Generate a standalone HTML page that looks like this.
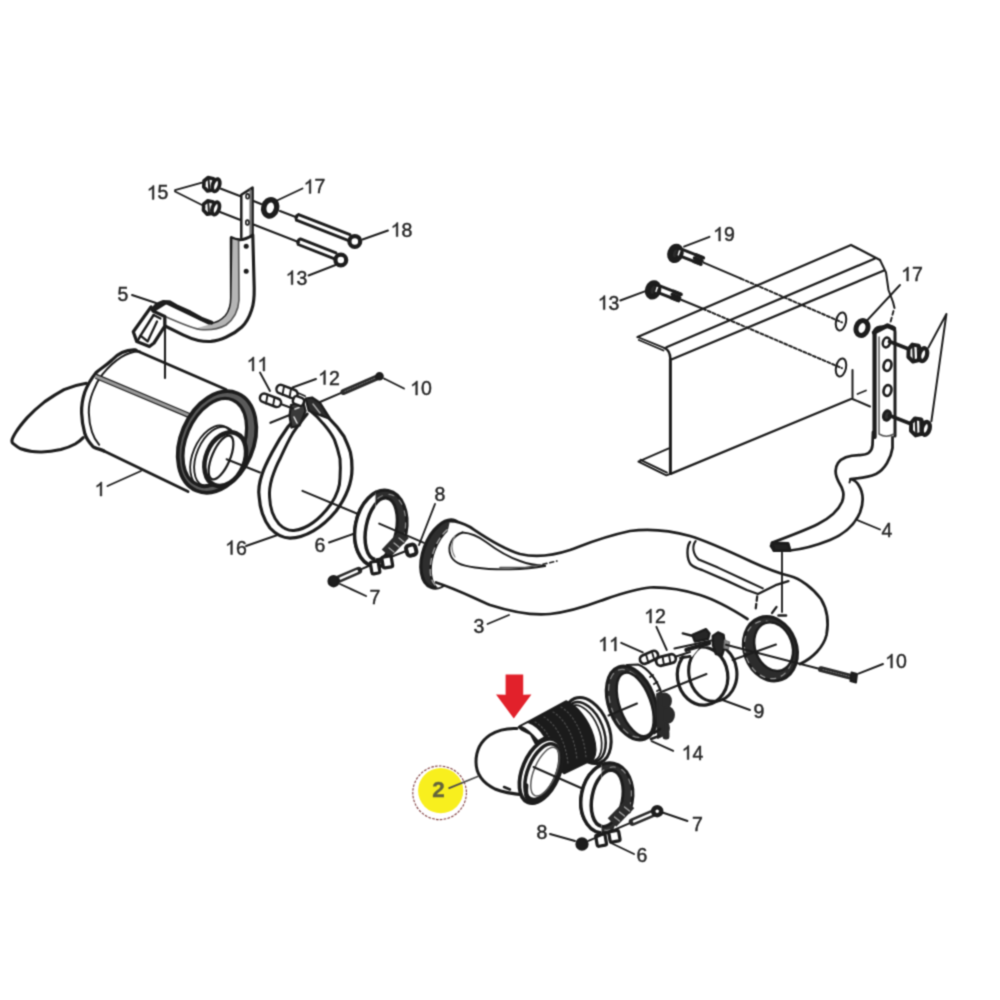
<!DOCTYPE html>
<html><head><meta charset="utf-8">
<style>
html,body{margin:0;padding:0;background:#fff;}
svg{display:block;}
text{font-family:"Liberation Sans",sans-serif;font-size:19.5px;fill:#262626;stroke:#262626;stroke-width:0.45px;text-anchor:middle;}
</style></head><body>
<svg width="1000" height="1000" viewBox="0 0 1000 1000">
<defs>
<filter id="soft" x="-2%" y="-2%" width="104%" height="104%" color-interpolation-filters="sRGB"><feConvolveMatrix order="3" kernelMatrix="0.0400 0.1200 0.0400 0.1200 0.3600 0.1200 0.0400 0.1200 0.0400" edgeMode="none" preserveAlpha="false"/></filter>
</defs>
<rect width="1000" height="1000" fill="#fff"/>
<g filter="url(#soft)">
<g id="art" fill="none" stroke="#1c1c1c" stroke-width="2.3" stroke-linecap="round" stroke-linejoin="round">
<!-- nuts 15 -->
<g id="nut15a">
<path d="M204,181 L208,177.6 L213.5,178.8 L215,184.5 L213,190 L207.5,191 L203.8,187 Z" stroke-width="3.62" fill="#fff"/>
<ellipse cx="216" cy="185.2" rx="3.4" ry="6.4" transform="rotate(18 216 185.2)" stroke-width="3.75" fill="#fff"/>
<path d="M208.5,178 L209.3,190.5" stroke-width="2.00"/>
</g>
<use href="#nut15a" x="-0.3" y="23.2"/>
<!-- assembly lines -->
<path d="M221,188.8 L240.5,196.3 M253.5,201 L261,204 M280,211 L297,217.4" stroke-width="2.12"/>
<path d="M220,212 L240.5,219.9 M253.5,224.6 L299,242.2" stroke-width="2.12"/>
<!-- washer 17 -->
<ellipse cx="270.2" cy="207.8" rx="6.4" ry="8.2" transform="rotate(15 270.2 207.8)" stroke-width="5.50" fill="#fff"/>
<!-- bolt 18 -->
<path d="M298.6,214.6 L350,234.6 M296.4,220.2 L348,240.4 M298.6,214.6 Q294.6,216.4 296.4,220.2" stroke-width="2.88"/>
<circle cx="354.8" cy="241.4" r="5.4" stroke-width="4.25" fill="#fff"/>
<!-- bolt 13 -->
<path d="M300.4,238.9 L336,252.9 M298.2,244.5 L334,258.7 M300.4,238.9 Q296.4,240.7 298.2,244.5" stroke-width="2.88"/>
<circle cx="340.8" cy="260" r="5.4" stroke-width="4.25" fill="#fff"/>
<!-- bracket upper strap -->
<path d="M241.3,237.5 L241.3,194.8 L252.6,187.6 L252.6,236" stroke-width="2.50" fill="#fff"/>
<path d="M250.2,189.5 L250.2,236" stroke-width="1.38" stroke="#666"/>
<ellipse cx="247.6" cy="196.3" rx="1.6" ry="2.4" stroke-width="1.62"/>
<ellipse cx="247.4" cy="222.5" rx="1.6" ry="2.4" stroke-width="1.62"/>
<!-- bracket lower channel: outer shape -->
<path d="M231.3,237.5 Q241,243 252.8,235 L254.2,288 C254.4,300 253.5,305 251.6,310 C249,318 246,323 241.8,327 C237,331.5 232,334.5 226.4,337 C221,339.5 216,341 211,341.4 C207,341.6 202,341.2 198.4,340.4 C193,339.2 188,337.2 183,334.8 L160,323.5 L153,311 L166,302.6 L211,324 Q219,323.5 226,316 Q231.5,309 231.5,298 Z" stroke-width="3.12" fill="#fff"/>
<path d="M232.5,239 L238.6,241 L239,300 Q238,316 226,325 Q215,331 200,329.5 L196,328.5 L211,324 Q219,323.5 226,316 Q231.5,309 231.5,298 Z" fill="#b5b5b5" stroke="none"/>
<path d="M238.6,241 L239,300 Q238,316 226,325 Q215,331 200,329.5 Q190,328 153,311" stroke-width="1.62" stroke="#555"/>
<circle cx="246.2" cy="246.3" r="1.9" fill="#1e1e1e" stroke-width="1.25"/>
<circle cx="246.2" cy="271.3" r="1.9" fill="#1e1e1e" stroke-width="1.25"/>
<!-- arm top dark edge -->
<path d="M153,309 L157,304.6 L163,302 L169.5,302.2 L176,306 L190,312.4 L201,318.6 L211.5,322.6" stroke-width="4.00"/>
<!-- foot -->
<path d="M151,307 L133.3,331.8 L136.8,341.6 L149.4,346.5 L154,343 L164.8,326.2 L164.8,316.4 L153,311 Z" stroke-width="3.25" fill="#fff"/>
<path d="M153.6,315 L140.5,335.6 L137.5,341" stroke-width="2.50"/>
<path d="M157,321.5 L147.6,341.4 L140.5,335.6" stroke-width="2.25"/>
<path d="M153.6,315 L160.5,318.6" stroke-width="2.25"/>
<!-- vertical assembly line -->
<path d="M165,319 L165,378" stroke-width="2.00"/>

<!-- tail pipe tip -->
<path d="M86.4,383.2 C78,384.5 70,387 64,389.6 C56,394 50,398 44.8,401.6 C38,407 32,412.5 27.2,417.6 C22,423.5 18.5,428 16,432 C13.5,436 12.3,438.5 12,440 C11.8,442 12,443 13.2,443.6 C15.5,445.5 18,447.5 20.8,448.8 C27,451 33.5,452 40,452 C47,452.2 54,451.2 60.8,449.6 C66,448.2 71,446.3 75.2,444 C78.5,442 81,440 83.2,437.6" stroke-width="3.12" fill="#fff"/>
<!-- body -->
<path d="M135,350 L225,389 L256,425 L207,495 L190,492.5 L97.5,447.5 C80,432 76,398 100,367 C110,355 122,349 135,350 Z" stroke="none" fill="#fff"/>
<path d="M135,350 L226,389.5" stroke-width="2.88"/>
<path d="M104,451 L188,491.5" stroke-width="2.88"/>
<!-- left end arcs -->
<path d="M136,350 C126,349 117,354.5 112,360 C105,366.5 100,369 96,372.8 C91,379 87.5,385 84.8,392 C82.5,399 81.4,406 81.6,412.8 C81.8,420 83,427 84.8,433.6 C86.5,439 89.5,443 92.8,446.4 C95,448.2 100.4,449.3 104,451" stroke-width="3.25"/>
<path d="M140,351.5 C128,351 116,358 102.4,374.4 C98,380 95,386 92.8,392 C90,399 88.6,406 88.8,412.8 C89,420 90,426 92,432 C93.5,437 96,441 99.2,444.8" stroke-width="2.00"/>
<!-- seam -->
<path d="M97,375 L189,413.6 M96,378.2 L188,416.8" stroke-width="2.00"/><path d="M96.5,376.6 L188.5,415.2" stroke-width="3.00" stroke="#9a9a9a"/>
<!-- front face -->
<g transform="rotate(23 217 442)">
<ellipse cx="217" cy="442" rx="36.3" ry="52.8" stroke-width="3.75" fill="#5a5a5a"/>
<ellipse cx="215" cy="443" rx="28.6" ry="45.8" stroke-width="3.25" fill="#fff"/>
</g>
<!-- outlet collar -->
<g transform="rotate(23 220 456)">
<ellipse cx="212.6" cy="459.5" rx="19" ry="32.5" stroke-width="1.88"/>
<ellipse cx="215.8" cy="458.5" rx="18.5" ry="31.5" stroke-width="1.88"/>
<ellipse cx="226" cy="456.8" rx="19.3" ry="28" stroke-width="4.50" fill="#fff"/>
<ellipse cx="221.5" cy="457" rx="9" ry="23.5" stroke-width="2.25"/>
</g>
<!-- axis -->
<path d="M226.6,459.2 L260,472.5" stroke-width="2.00"/>

<!-- strap 16 -->
<path d="M304,410.8 C298,416 292,422 288,426.8 C282,435 276,445 272,452.4 C268,460 264,468 262.4,473.2 C259,483 258,490 259.2,497 C260,510 264,520 270,528 C276,534.5 283,538 290,538 C305,538 322,528 336,511 C347,496 352,482 352,468.4 C352,462 351.5,457 350.4,452.4 C348.5,446 346,441 344,436.4 C340,430 335,424 329.6,418.8 C326,413 323,408.5 320,404.4" stroke-width="3.25"/>
<path d="M307.2,414 C302,420 297,427 292.8,433.2 C288,441 284,450 280,458.8 C276,466 274,472 272,478 C270,485 269,491 269.6,497.2 C270,508 273,517 279,524 C284,529 289,531 294,530.5 C307,529 320,519 331,504 C337,495 340,487 340,478 C340.5,471 340.5,465 340,458.8 C338.5,452 336.5,445 334.4,439.6 C331,433 327,428 323.2,423.6 C319,418.5 315,414.5 310.4,410.8" stroke-width="3.00"/>
<!-- apex dark triangle -->
<path d="M305.6,398.5 L312,397.5 L320,402.8 L329.6,418.8 L316.8,414 L308.8,410.8 Z" fill="#2c2c2c" stroke-width="2.25"/>
<path d="M313,404 L320,413" stroke="#aaa" stroke-width="1.50"/>
<!-- hardware left of apex -->
<path d="M291,405 L303,401 L305.5,411 L299.5,425.5 L291.5,427.5 L289.5,416 Z" fill="#3a3a3a" stroke-width="2.25"/>
<path d="M295,409 L299,407.5 M294,417 L297,423" stroke="#ddd" stroke-width="1.62"/>
<path d="M270.4,422.8 L289,415.2" stroke-width="2.12"/>
<!-- links 11 12 -->
<g stroke-width="2.50" fill="#fff">
<rect x="259.5" y="396" width="22" height="8.6" rx="4.2" transform="rotate(21 270.5 400.3)"/>
<rect x="276" y="387.3" width="22" height="8.6" rx="4.2" transform="rotate(21 287 391.6)"/>
<rect x="293" y="397" width="11" height="8" rx="3" transform="rotate(21 298.5 401)"/>
</g>
<path d="M267.5,395 L266,403.5 M274.5,397.5 L273,406 M284,386.3 L282.5,394.8 M291,389 L289.5,397.5" stroke-width="1.88"/>
<path d="M282,404.5 L293,408.5 M297,392.5 L305,396" stroke-width="1.88"/>
<!-- line apex to bolt 10 -->
<path d="M320,402 L342.4,392.4" stroke-width="2.00"/>
<!-- bolt 10 -->
<path d="M343.5,392 L377,377.4" stroke-width="6.00" stroke="#2a2a2a"/>
<path d="M345,391.3 L375,378.2" stroke-width="1.00" stroke="#777" stroke-dasharray="1 1.6"/>
<circle cx="379.5" cy="376.3" r="3.2" fill="#1e1e1e" stroke-width="2.25"/>
<!-- axis -->
<path d="M302.4,490.8 L358,514" stroke-width="2.00"/>

<!-- clamp 6 upper -->
<defs>
<clipPath id="c6left"><rect x="340" y="480" width="35.5" height="100"/></clipPath>
<clipPath id="c6keep"><path d="M340,480 H420 V538 L392,548 L381,575 H340 Z"/></clipPath>
</defs>
<g id="clamp6ring">
<g clip-path="url(#c6keep)">
<g transform="rotate(11 380.8 528.4)">
<ellipse cx="380.8" cy="528.4" rx="25.6" ry="38.6" stroke-width="3.25" fill="#2e2e2e"/>
<ellipse cx="384" cy="528.4" rx="21" ry="35" stroke-width="1.25" stroke="#8a8a8a" stroke-dasharray="5 7"/>
<ellipse cx="381.2" cy="528.8" rx="15.2" ry="31.2" stroke-width="3.00" fill="#fff"/>
</g>
<g clip-path="url(#c6left)">
<g transform="rotate(11 380.8 528.4)">
<ellipse cx="380.8" cy="528.4" rx="25.6" ry="38.6" stroke-width="3.50" fill="#fff"/>
<ellipse cx="381.2" cy="528.8" rx="15.2" ry="31.2" stroke-width="3.50" fill="#fff"/>
</g>
</g>
</g>
</g>
<!-- lower right dark band going to blocks -->
<path d="M404.5,534 L386,553.5" stroke-width="11.88" stroke="#2c2c2c" stroke-linecap="butt"/>
<path d="M399,538 l5,4 M394,543 l5,4 M389,548 l5,4" stroke="#aaa" stroke-width="1.25"/>
<!-- blocks -->
<rect x="371" y="561.5" width="8" height="12" rx="1.6" stroke-width="3.25" fill="#fff" transform="rotate(-10 375 567)"/>
<rect x="382.5" y="556.5" width="9.5" height="11" rx="1.6" stroke-width="3.25" fill="#fff" transform="rotate(-10 387 562)"/>
<path d="M392,556.5 L406,551" stroke-width="2.00"/>
<!-- nut 8 -->
<rect x="406.5" y="545" width="9.4" height="10.4" rx="3" stroke-width="4.00" fill="#fff" transform="rotate(-15 411 550)"/>
<!-- bolt 7 -->
<path d="M339,579 L358.4,570.6" stroke-width="7.50" stroke="#2a2a2a"/>
<path d="M340.5,578.4 L357,571.2" stroke-width="2.50" stroke="#fff"/>
<path d="M359,570.2 L371,565" stroke-width="2.00"/>
<circle cx="333.6" cy="581.2" r="4.8" fill="#1e1e1e" stroke-width="2.75"/>
<!-- axis -->
<path d="M379.2,523.6 L424,542.8" stroke-width="2.00"/>

<!-- flange left (drawn before body) -->
<defs><clipPath id="flc"><ellipse cx="443.2" cy="554" rx="20" ry="35.4"/></clipPath></defs>
<g transform="rotate(20 443.2 554)">
<ellipse cx="443.2" cy="554" rx="20" ry="35.4" stroke-width="3.25" fill="#2e2e2e"/>
<g clip-path="url(#flc)"><ellipse cx="453.6" cy="554" rx="20" ry="35.4" stroke-width="2.50" fill="#fff"/></g>
<path d="M446,522 A17,33 0 0 0 446,586" stroke-width="1.38" stroke="#a5a5a5" stroke-dasharray="6 5"/>
</g>
<!-- pipe 3 body fill -->
<path d="M450,521 C457,521 464,523.5 470,527 C482,535 500,548 520,554 C535,557.5 552,556 570,550 C585,544.5 600,537.5 630,531 C650,528.5 672,531 690,536 C705,540.5 735,554 750,561 C762,566.5 775,572.5 790,576 C800,578.5 813,588 821,599 C827,609 829,622 826.5,635 C823.5,647 813,658 800,664 L770,680 L745,645 L747.5,619 C735,611 716,600 700,595 C684,590 668,587 650,587.5 C632,589 612,597 600,601 C588,605.5 572,611.5 550,614 C535,615.5 515,613 490,605 C478,600.5 462,591 436,582.5 Z" fill="#fff" stroke="none"/>
<!-- top edge -->
<path d="M450,521 C457,521 464,523.5 470,527 C482,535 500,548 520,554 C535,557.5 552,556 570,550 C585,544.5 600,537.5 630,531 C650,528.5 672,531 690,536 C705,540.5 735,554 750,561 C762,566.5 775,572.5 790,576 C800,578.5 813,588 821,599 C827,609 829,622 826.5,635 C823.5,647 813,658 800,664" stroke-width="2.75"/>
<!-- bottom edge -->
<path d="M436,582.5 C462,591 478,600.5 490,605 C515,613 535,615.5 550,614 C572,611.5 588,605.5 600,601 C612,597 632,589 650,587.5 C668,587 684,590 700,595 C716,600 735,611 747.5,619" stroke-width="2.75"/>
<!-- (flange moved to start) -->
<!-- inner crescent highlight -->
<path d="M462.5,532.5 C452,536 447,546 450.5,555 C453,562 460,565.5 475,567.5 C495,570.5 525,570 545,566" stroke-width="1.88"/>
<path d="M462.5,532.5 C470,533 478,536 486,542 C496,549.5 508,557 520,561 C528,564 536,565.5 545,566" stroke-width="1.88"/>
<path d="M455,536 C451,542 451,551 455,557" stroke-width="1.25" stroke="#888"/>
<!-- highlight streak -->
<path d="M500,567.5 L525,567.5 L540,565" stroke-width="1.62" stroke="#555"/>
<path d="M543,564.3 L557,561" stroke-width="1.62" stroke-dasharray="4 3"/>
<!-- heat shield indentation -->
<path d="M690,542 C686.5,547 686.5,559 690.8,564.4 C694,567.5 698,568.8 702,570 L726,580.4 L746.8,590 L758,594 L766,590 L775.6,585.2 L788.4,581.2" stroke-width="2.38"/>
<path d="M695.6,541.2 C692,546 692.5,554 698.8,559.6 L718,567.6 L742,578.8 L762.8,588.4" stroke-width="2.12"/>
<path d="M757.2,596.4 L755.6,609.5" stroke-width="2.25" stroke-dasharray="4.5 3"/>
<!-- end ring -->
<g transform="rotate(-20 770.4 648.8)">
<ellipse cx="770.4" cy="648.8" rx="26.2" ry="32.8" stroke-width="3.00" fill="#2c2c2c"/>
<ellipse cx="768" cy="649" rx="23" ry="29.5" stroke-width="1.25" stroke="#999" stroke-dasharray="5 6" fill="none"/>
</g>
<g transform="rotate(-20 773.6 646.6)">
<ellipse cx="773.6" cy="646.6" rx="18.6" ry="25" stroke-width="2.50" fill="#fff"/>
</g>
<path d="M772,613 l4.5,-6" stroke-width="2.25"/>

<!-- frame rail -->
<path d="M637.6,337 L851,245 L880,260" stroke-width="2.25"/>
<path d="M637.6,337 L664.8,348.2 M638.8,340 L663.5,350.5" stroke-width="1.88"/>
<path d="M666.4,347.2 L875,258.5" stroke-width="2.25"/>
<path d="M672,359.2 L884,270.5" stroke-width="2.25"/>
<path d="M664.8,348.2 Q670,350.5 670.4,359" stroke-width="2.50"/>
<path d="M670.4,359 L670.4,473.6" stroke-width="3.00"/>
<path d="M671.2,473.6 L851,399" stroke-width="2.25"/>
<path d="M638.4,461.6 L668.8,448.4 M638.4,461.6 L666.4,475.4 L671.2,473.6 M640.5,459.8 L667,472.6" stroke-width="1.88"/>
<!-- right jagged end -->
<path d="M880,260 L886,272.5 L888.5,290 L893,302 L894.5,308" stroke-width="2.00"/>
<path d="M893.5,311 L890,324" stroke-width="1.88" stroke-dasharray="4 3"/>
<!-- notch bottom right -->
<path d="M852.5,370 L852.5,399 L870,406.5" stroke-width="2.00"/>
<path d="M857.5,394 L866,390.5" stroke-width="1.75"/>
<!-- holes -->
<ellipse cx="841" cy="321.5" rx="5" ry="9.2" transform="rotate(12 841 321.5)" stroke-width="2.00"/>
<ellipse cx="841" cy="367.5" rx="5" ry="9.2" transform="rotate(12 841 367.5)" stroke-width="2.00"/>
<!-- bolts 19 / 13 -->
<g id="b19">
<path d="M679.6,248.4 L703,257.6 M677.2,254.8 L700.6,264" stroke-width="3.00"/>
<path d="M696,254.9 L703.4,257.8 M693.8,261.3 L701,264.2 M694.5,258 L702,261" stroke-width="3.50"/>
<ellipse cx="675.4" cy="253.4" rx="5.2" ry="7" transform="rotate(20 675.4 253.4)" stroke-width="5.75" fill="#2a2a2a"/>
<path d="M678.5,249 L681.5,250.2 L679.2,256.6 L676.6,255.6 Z" stroke-width="1.50" fill="#fff"/>
</g>
<use href="#b19" x="-22.3" y="36.5"/>
<path d="M703.6,262.6 L741,278.6" stroke-width="2.12"/>
<path d="M741,278.6 L842,322.4" stroke-width="2.00" stroke-dasharray="3 2.2"/>
<path d="M680.5,299.4 L703,308.8" stroke-width="2.12"/>
<path d="M703,308.8 L842,368.2" stroke-width="2.00" stroke-dasharray="3 2.2"/>
<!-- washer 17 right -->
<ellipse cx="862" cy="328" rx="5.8" ry="7.6" transform="rotate(18 862 328)" stroke-width="5.00" fill="#fff"/>

<!-- hanger tube -->
<path d="M873,432 L872.5,445 C872,452 868,455 860,455 C850,455 842,457 838,463 C834,469 835.5,476 839,482.5 C843,489 845,494 842,502 C838,511 830,518 818,524 C806,530 790,536 772.5,542.5 L771,546 L774,550.5 L790,550.5 C800,549.5 815,546 830,540 C845,534 855,524 860,512.5 C864,502 863,492 858.5,485 C856,481 853,479.5 850.5,479 C858,478.5 868,477.5 876,474 C885,469.5 891,458 892.5,448 L892.5,432 Z" stroke-width="2.75" fill="#fff"/>
<path d="M850.5,479 L849.5,482.5" stroke-width="2.00"/>
<!-- lower end dark -->
<path d="M772,543 L788,543.5 L790,550.5 L774,550.5 Z" fill="#222" stroke-width="3.00"/>
<!-- plate -->
<path d="M874,437.5 L874,333 Q874.5,327.5 880,327 L891,326.5 Q895,327 895,332 L895,436" stroke-width="3.00" fill="#fff"/>
<path d="M874.8,331 L874.8,437" stroke-width="3.75"/>
<path d="M879,337 L879,434 Q886,438.5 894,434" stroke-width="1.50" stroke="#555"/>
<path d="M874,332.5 L887.5,325.6 L894,328.6" stroke-width="4.50"/>
<!-- holes -->
<ellipse cx="886.5" cy="342.5" rx="3.6" ry="5" transform="rotate(15 886.5 342.5)" stroke-width="2.50"/>
<ellipse cx="887.5" cy="365.5" rx="3.8" ry="5.4" transform="rotate(15 887.5 365.5)" stroke-width="2.75"/>
<ellipse cx="887.5" cy="390.5" rx="3.8" ry="5.4" transform="rotate(15 887.5 390.5)" stroke-width="2.75"/>
<ellipse cx="887" cy="415.5" rx="3.4" ry="4.8" transform="rotate(15 887 415.5)" stroke-width="3.00" fill="#333"/>
<!-- studs -->
<path d="M889.5,341.6 L908,348.8" stroke-width="3.75"/>
<path d="M889.5,415.4 L910,423.4" stroke-width="3.75"/>
<!-- nuts -->
<g id="nutR">
<path d="M908.6,349 L912.4,344.6 L918.6,345.6 L921,352 L919,360 L913,361.6 L908.4,357 Z" stroke-width="4.00" fill="#fff"/>
<ellipse cx="923.2" cy="354.6" rx="3.8" ry="6.6" transform="rotate(15 923.2 354.6)" stroke-width="4.25" fill="#fff"/>
<path d="M913.2,345.4 L913.8,361" stroke-width="2.25"/>
<path d="M917.5,347 L918,359.5" stroke-width="1.75"/>
</g>
<use href="#nutR" x="2.6" y="73.8"/>
<!-- pointer -->
<path d="M928.4,347.6 L946.4,314 L931.4,421.2" stroke-width="2.00"/>
<!-- vertical line -->
<path d="M782,552.5 L782,612" stroke-width="1.88"/>
<path d="M778.5,615.5 L786,615.5" stroke-width="2.50"/>

<!-- clamp 9: back ellipse then front -->
<defs><clipPath id="c9clip"><path d="M660,651 L692,657 L700,647 L740,643 L745,720 L660,720 Z"/></clipPath></defs>
<g clip-path="url(#c9clip)">
<g transform="rotate(-8 712.8 672.5)">
<ellipse cx="712.8" cy="672.5" rx="24" ry="29" stroke-width="3.12"/>
</g>
<g transform="rotate(-8 702.6 676)">
<ellipse cx="702.6" cy="676" rx="25.2" ry="29.2" stroke-width="3.25"/>
</g>
</g>
<path d="M680.5,658 L690,656.4" stroke-width="2.75"/>
<!-- top hardware -->
<path d="M682.8,633.4 L693,636" stroke-width="2.50"/>
<path d="M692.5,635 L706,629.2 L709.5,633.5 L708,639 L695,641.5 Z" fill="#262626" stroke-width="2.50"/>
<path d="M712.8,636 L718,632.5 L723.5,635 L725,646 L722,655 L716,654 L713,645 Z" fill="#262626" stroke-width="2.50"/>
<path d="M724.5,640 L729.5,642 L728.5,649 L724,648 Z" fill="#8a8a8a" stroke="#777" stroke-width="1.25"/>
<path d="M686.4,649.8 L709,643.2" stroke-width="4.25"/>
<path d="M674.4,648.6 L712.8,640.2" stroke-width="2.00"/>
<path d="M676,656.5 L690,652" stroke-width="1.88"/>
<!-- links 11/12 right -->
<g stroke-width="2.75" fill="#fff">
<rect x="639.5" y="653" width="19" height="8.6" rx="4.2" transform="rotate(-24 649 657.3)"/>
<rect x="656" y="655.6" width="20" height="8.8" rx="4.3" transform="rotate(-14 666 660)"/>
</g>
<path d="M646,654.5 L648.5,663 M652,652 L654.5,660.5 M662.5,656.5 L664,665 M669,655 L670.5,663.5" stroke-width="1.88"/>
<!-- long line through ring to bolt 10 -->
<path d="M726,644.8 L820,669" stroke-width="2.00"/>
<path d="M821,669.2 L851,676.8" stroke-width="6.00" stroke="#2a2a2a"/>
<path d="M823,669.7 L849,676.3" stroke-width="1.00" stroke="#777" stroke-dasharray="1 1.6"/>
<path d="M851.5,672.5 L857,674 L856,682.5 L850.5,681 Z" fill="#1e1e1e" stroke-width="2.00"/>
<!-- axis lines -->
<path d="M662.5,691.5 L706.5,674" stroke-width="2.00"/>
<path d="M732.5,660 L776,644.5" stroke-width="2.00"/>

<!-- clamp 14 -->
<!-- band depth right side -->
<path d="M627,665 L638,664.5 C648,668 657,680 661,692 C664,702 664,716 661,726" stroke-width="2.25" fill="#fff"/>
<g transform="rotate(-20 631.75 703)">
<ellipse cx="631.75" cy="703" rx="23.2" ry="38.4" stroke-width="3.00" fill="#2b2b2b"/>
<ellipse cx="630.5" cy="703" rx="19.5" ry="35.5" stroke-width="1.25" stroke="#8c8c8c" stroke-dasharray="6 6" fill="none"/>
</g>
<g transform="rotate(-20 635.2 704.4)">
<ellipse cx="635.2" cy="704.4" rx="15.6" ry="33.4" stroke-width="2.50" fill="#fff"/>
</g>
<!-- right band ticks -->
<path d="M650,677 l3,-2 M654,684 l3.4,-2 M657,691 l3.4,-1.6" stroke-width="1.88"/>
<!-- clamp mechanism blobs -->
<g fill="#2b2b2b" stroke="#2b2b2b" stroke-width="1.88">
<ellipse cx="664.5" cy="701" rx="6.5" ry="7.5"/>
<ellipse cx="667.5" cy="715" rx="6.5" ry="8"/>
<ellipse cx="664" cy="728" rx="5" ry="6.5"/>
<path d="M657,694 L661,692 L664,735 L658,738 Z"/>
<rect x="663.5" y="731" width="5" height="7.5" rx="1.5"/>
</g>
<path d="M654,733 l6,-4 M651,739 l8,-3" stroke-width="2.75"/>
<!-- axis -->
<path d="M608.5,715.5 L637,703.5" stroke-width="2.00"/>

<!-- flange far end -->
<g transform="rotate(-22 587.4 730.5)">
<ellipse cx="587.4" cy="730.5" rx="21.5" ry="34.5" stroke-width="3.00" fill="#fff"/>
<ellipse cx="584.5" cy="731" rx="18.5" ry="31.5" stroke-width="2.50"/>
<ellipse cx="582.5" cy="731.5" rx="16" ry="29.5" stroke-width="1.75"/>
</g>
<!-- flex body black -->
<path d="M519,727 L566,701.5 C577,706 588,720 593,736 C596,746 596,754 593,759 L564,773 Z" fill="#1b1b1b" stroke="#1b1b1b" stroke-width="2.50"/>
<!-- texture -->
<g stroke="#555" stroke-width="1.12" stroke-dasharray="1.5 2.5" fill="none">
<path d="M535,722 C546,728 556,745 558,766"/>
<path d="M544,717 C556,724 566,742 568,764"/>
<path d="M553,712 C565,719 575,737 577,760"/>
<path d="M561,707 C573,714 584,733 586,757"/>
</g>
<!-- elbow -->
<path d="M517,728.5 C508,728 498,730 490,735 C481,741 476,751 476,762 C476,774 483,783 495,789 C505,793 514,794 524,795 L548,770 L530,735 Z" fill="#fff" stroke="none"/>
<path d="M517,728.5 C508,728 498,730 490,735 C481,741 476,751 476,762 C476,774 483,783 495,789 C505,793 514,794 524,795" stroke-width="3.00"/>
<path d="M504,787 L510,789.5" stroke-width="2.50"/>
<!-- white collar strip top -->
<path d="M520,726 L528,722 C534,724 541,730 545,737 L538,741 C533,735 527,729 520,726 Z" fill="#fff" stroke-width="1.88"/>
<!-- front ring -->
<g transform="rotate(23 541 771)">
<ellipse cx="541" cy="771" rx="18.5" ry="34" stroke-width="3.75" fill="#fff"/>
<ellipse cx="542.5" cy="771" rx="14.3" ry="29.6" stroke-width="3.50"/>
<path d="M552,796 A12.5,27.5 0 0 1 533,790" stroke-width="4.50"/>
<ellipse cx="545" cy="770" rx="11" ry="26" stroke-width="1.50" stroke="#555"/>
</g>
<!-- axis -->
<path d="M533.5,767 L610.5,801" stroke-width="2.00"/>

<!-- clamp 6 lower -->
<defs>
<clipPath id="c6bleft"><rect x="565" y="750" width="36.5" height="100"/></clipPath>
<clipPath id="c6bkeep"><path d="M565,750 H646 V807 L618,818 L607,845 H565 Z"/></clipPath>
</defs>
<g clip-path="url(#c6bkeep)">
<g transform="rotate(11 606.8 798)">
<ellipse cx="606.8" cy="798" rx="25.6" ry="35.4" stroke-width="3.25" fill="#2e2e2e"/>
<ellipse cx="610" cy="798" rx="21" ry="32" stroke-width="1.25" stroke="#8a8a8a" stroke-dasharray="5 7"/>
<ellipse cx="607.2" cy="798.4" rx="15.2" ry="28.4" stroke-width="3.00" fill="#fff"/>
</g>
<g clip-path="url(#c6bleft)">
<g transform="rotate(11 606.8 798)">
<ellipse cx="606.8" cy="798" rx="25.6" ry="35.4" stroke-width="3.50" fill="#fff"/>
<ellipse cx="607.2" cy="798.4" rx="15.2" ry="28.4" stroke-width="3.50" fill="#fff"/>
</g>
</g>
</g>
<path d="M630,804 L612,822.5" stroke-width="11.88" stroke="#2c2c2c" stroke-linecap="butt"/>
<path d="M624.5,807 l5,4 M619.5,812 l5,4 M614.5,817 l5,4" stroke="#aaa" stroke-width="1.25"/>
<!-- blocks -->
<rect x="596.4" y="834.4" width="9.4" height="11.4" rx="1.6" stroke-width="3.25" fill="#fff" transform="rotate(-10 601 840)"/>
<rect x="609.4" y="831" width="10" height="10.6" rx="1.6" stroke-width="3.25" fill="#fff" transform="rotate(-10 614.5 836.3)"/>
<!-- line nut -> bolt -->
<path d="M588.4,840.8 L631.6,822.4" stroke-width="2.00"/>
<!-- nut 8 lower -->
<circle cx="582" cy="844" r="5.4" fill="#1c1c1c" stroke-width="2.50"/>
<!-- bolt 7 right -->
<path d="M632.5,822 L653,813.2" stroke-width="7.50" stroke="#2a2a2a"/>
<path d="M634,821.4 L651.5,813.8" stroke-width="2.50" stroke="#fff"/>
<circle cx="657.2" cy="811.2" r="4" stroke-width="4.50" fill="#fff"/>

<g stroke-width="1.88">
<!-- vertical assembly line bracket->muffler -->
<path d="M165,319 L165,378" stroke-width="2.12"/>
<!-- 15 -->
<path d="M175,190.2 L202,182.6 M175,191.5 L202,205"/>
<!-- 17 left -->
<path d="M302.5,188.5 L277,200.5"/>
<!-- 18 -->
<path d="M388,230.5 L362.5,239.5"/>
<!-- 13 left -->
<path d="M308.5,275.5 L335.5,265"/>
<!-- 5 -->
<path d="M132,295 L156,303"/>
<!-- 11 left -->
<path d="M260,372.5 L270,391"/>
<!-- 12 left -->
<path d="M316,379 L292.5,387.5"/>
<!-- 10 left -->
<path d="M384,378.5 L404,388.5"/>
<!-- 1 -->
<path d="M107.5,486 L141,471"/>
<!-- 16 -->
<path d="M246,546 L277.5,535"/>
<!-- 6 left -->
<path d="M329,542.5 L353,534"/>
<!-- 8 upper -->
<path d="M435,504 L419,545"/>
<!-- 7 left -->
<path d="M340,584 L366,596"/>
<!-- 3 -->
<path d="M487.5,624 L509,615"/>
<!-- 19 -->
<path d="M684,246.6 L709.5,236.8"/>
<!-- 13 right -->
<path d="M620.3,300.5 L644.8,291.4"/>
<!-- 17 right -->
<path d="M900,285 L867.5,320"/>
<!-- 4 -->
<path d="M856,519.5 L880,529.5"/>
<!-- 12 right -->
<path d="M656.4,626.8 L666.8,650"/>
<!-- 11 right -->
<path d="M621.2,642.8 L642.8,652.4"/>
<!-- 10 right -->
<path d="M858.5,673.6 L883,664"/>
<!-- 9 -->
<path d="M722.5,700 L750,710"/>
<!-- 14 -->
<path d="M651.6,741.2 L673.2,750.8"/>
<!-- 7 right -->
<path d="M662.5,812.5 L687.5,821"/>
<!-- 6 right -->
<path d="M610,842.5 L634,854"/>
<!-- 8 lower -->
<path d="M550,834 L575,841"/>
</g>

</g>
<path d="M505.6,674.4 L523.2,674.4 L523.2,694.8 L531.4,694.4 L513.8,718.6 L496,694.4 L505.6,694.8 Z" fill="#e2212b"/>
<circle cx="440.7" cy="790.7" r="22.6" fill="#f8ef1e"/>
<circle cx="439.6" cy="792.8" r="26.8" fill="none" stroke="#7d3a3a" stroke-width="1.1" stroke-dasharray="2.6 1.3"/>
<path d="M448.5,788.4 L479,776" stroke="#4a4a4a" stroke-width="1.7" fill="none"/>

<g>
<path d="M763,0 H583 V1147 Q518,1085 412.5,1023 Q307,961 223,930 V1104 Q374,1175 487,1276 Q600,1377 647,1472 H763 Z" transform="translate(146.76,199.40) scale(0.009521,-0.009521)" fill="#262626" stroke="#262626" stroke-width="47.3"/>
<text x="163.02" y="199.40">5</text>
<path d="M763,0 H583 V1147 Q518,1085 412.5,1023 Q307,961 223,930 V1104 Q374,1175 487,1276 Q600,1377 647,1472 H763 Z" transform="translate(303.66,193.40) scale(0.009521,-0.009521)" fill="#262626" stroke="#262626" stroke-width="47.3"/>
<text x="319.92" y="193.40">7</text>
<path d="M763,0 H583 V1147 Q518,1085 412.5,1023 Q307,961 223,930 V1104 Q374,1175 487,1276 Q600,1377 647,1472 H763 Z" transform="translate(390.66,236.60) scale(0.009521,-0.009521)" fill="#262626" stroke="#262626" stroke-width="47.3"/>
<text x="406.92" y="236.60">8</text>
<path d="M763,0 H583 V1147 Q518,1085 412.5,1023 Q307,961 223,930 V1104 Q374,1175 487,1276 Q600,1377 647,1472 H763 Z" transform="translate(285.66,284.60) scale(0.009521,-0.009521)" fill="#262626" stroke="#262626" stroke-width="47.3"/>
<text x="301.92" y="284.60">3</text>
<text x="123.00" y="301.00">5</text>
<path d="M763,0 H583 V1147 Q518,1085 412.5,1023 Q307,961 223,930 V1104 Q374,1175 487,1276 Q600,1377 647,1472 H763 Z" transform="translate(246.66,371.00) scale(0.009521,-0.009521)" fill="#262626" stroke="#262626" stroke-width="47.3"/>
<path d="M763,0 H583 V1147 Q518,1085 412.5,1023 Q307,961 223,930 V1104 Q374,1175 487,1276 Q600,1377 647,1472 H763 Z" transform="translate(257.50,371.00) scale(0.009521,-0.009521)" fill="#262626" stroke="#262626" stroke-width="47.3"/>
<path d="M763,0 H583 V1147 Q518,1085 412.5,1023 Q307,961 223,930 V1104 Q374,1175 487,1276 Q600,1377 647,1472 H763 Z" transform="translate(318.16,384.50) scale(0.009521,-0.009521)" fill="#262626" stroke="#262626" stroke-width="47.3"/>
<text x="334.42" y="384.50">2</text>
<path d="M763,0 H583 V1147 Q518,1085 412.5,1023 Q307,961 223,930 V1104 Q374,1175 487,1276 Q600,1377 647,1472 H763 Z" transform="translate(410.16,395.00) scale(0.009521,-0.009521)" fill="#262626" stroke="#262626" stroke-width="47.3"/>
<text x="426.42" y="395.00">0</text>
<path d="M763,0 H583 V1147 Q518,1085 412.5,1023 Q307,961 223,930 V1104 Q374,1175 487,1276 Q600,1377 647,1472 H763 Z" transform="translate(94.58,496.00) scale(0.009521,-0.009521)" fill="#262626" stroke="#262626" stroke-width="47.3"/>
<path d="M763,0 H583 V1147 Q518,1085 412.5,1023 Q307,961 223,930 V1104 Q374,1175 487,1276 Q600,1377 647,1472 H763 Z" transform="translate(225.16,554.50) scale(0.009521,-0.009521)" fill="#262626" stroke="#262626" stroke-width="47.3"/>
<text x="241.42" y="554.50">6</text>
<text x="320.00" y="552.00">6</text>
<text x="440.00" y="501.00">8</text>
<text x="375.00" y="604.00">7</text>
<text x="479.00" y="633.00">3</text>
<path d="M763,0 H583 V1147 Q518,1085 412.5,1023 Q307,961 223,930 V1104 Q374,1175 487,1276 Q600,1377 647,1472 H763 Z" transform="translate(713.16,241.00) scale(0.009521,-0.009521)" fill="#262626" stroke="#262626" stroke-width="47.3"/>
<text x="729.42" y="241.00">9</text>
<path d="M763,0 H583 V1147 Q518,1085 412.5,1023 Q307,961 223,930 V1104 Q374,1175 487,1276 Q600,1377 647,1472 H763 Z" transform="translate(597.76,309.60) scale(0.009521,-0.009521)" fill="#262626" stroke="#262626" stroke-width="47.3"/>
<text x="614.02" y="309.60">3</text>
<path d="M763,0 H583 V1147 Q518,1085 412.5,1023 Q307,961 223,930 V1104 Q374,1175 487,1276 Q600,1377 647,1472 H763 Z" transform="translate(901.16,281.00) scale(0.009521,-0.009521)" fill="#262626" stroke="#262626" stroke-width="47.3"/>
<text x="917.42" y="281.00">7</text>
<text x="887.00" y="537.00">4</text>
<path d="M763,0 H583 V1147 Q518,1085 412.5,1023 Q307,961 223,930 V1104 Q374,1175 487,1276 Q600,1377 647,1472 H763 Z" transform="translate(644.16,623.00) scale(0.009521,-0.009521)" fill="#262626" stroke="#262626" stroke-width="47.3"/>
<text x="660.42" y="623.00">2</text>
<path d="M763,0 H583 V1147 Q518,1085 412.5,1023 Q307,961 223,930 V1104 Q374,1175 487,1276 Q600,1377 647,1472 H763 Z" transform="translate(598.16,651.00) scale(0.009521,-0.009521)" fill="#262626" stroke="#262626" stroke-width="47.3"/>
<path d="M763,0 H583 V1147 Q518,1085 412.5,1023 Q307,961 223,930 V1104 Q374,1175 487,1276 Q600,1377 647,1472 H763 Z" transform="translate(609.00,651.00) scale(0.009521,-0.009521)" fill="#262626" stroke="#262626" stroke-width="47.3"/>
<path d="M763,0 H583 V1147 Q518,1085 412.5,1023 Q307,961 223,930 V1104 Q374,1175 487,1276 Q600,1377 647,1472 H763 Z" transform="translate(885.16,668.00) scale(0.009521,-0.009521)" fill="#262626" stroke="#262626" stroke-width="47.3"/>
<text x="901.42" y="668.00">0</text>
<text x="759.00" y="718.00">9</text>
<path d="M763,0 H583 V1147 Q518,1085 412.5,1023 Q307,961 223,930 V1104 Q374,1175 487,1276 Q600,1377 647,1472 H763 Z" transform="translate(681.66,759.50) scale(0.009521,-0.009521)" fill="#262626" stroke="#262626" stroke-width="47.3"/>
<text x="697.92" y="759.50">4</text>
<text x="697.50" y="831.00">7</text>
<text x="642.00" y="862.00">6</text>
<text x="542.00" y="839.00">8</text>
<text x="438.4" y="797.4" style="fill:#63643c;stroke:#63643c;stroke-width:0.3px;font-weight:bold;font-size:22.5px">2</text>
</g>

</g>
</svg>
</body></html>
